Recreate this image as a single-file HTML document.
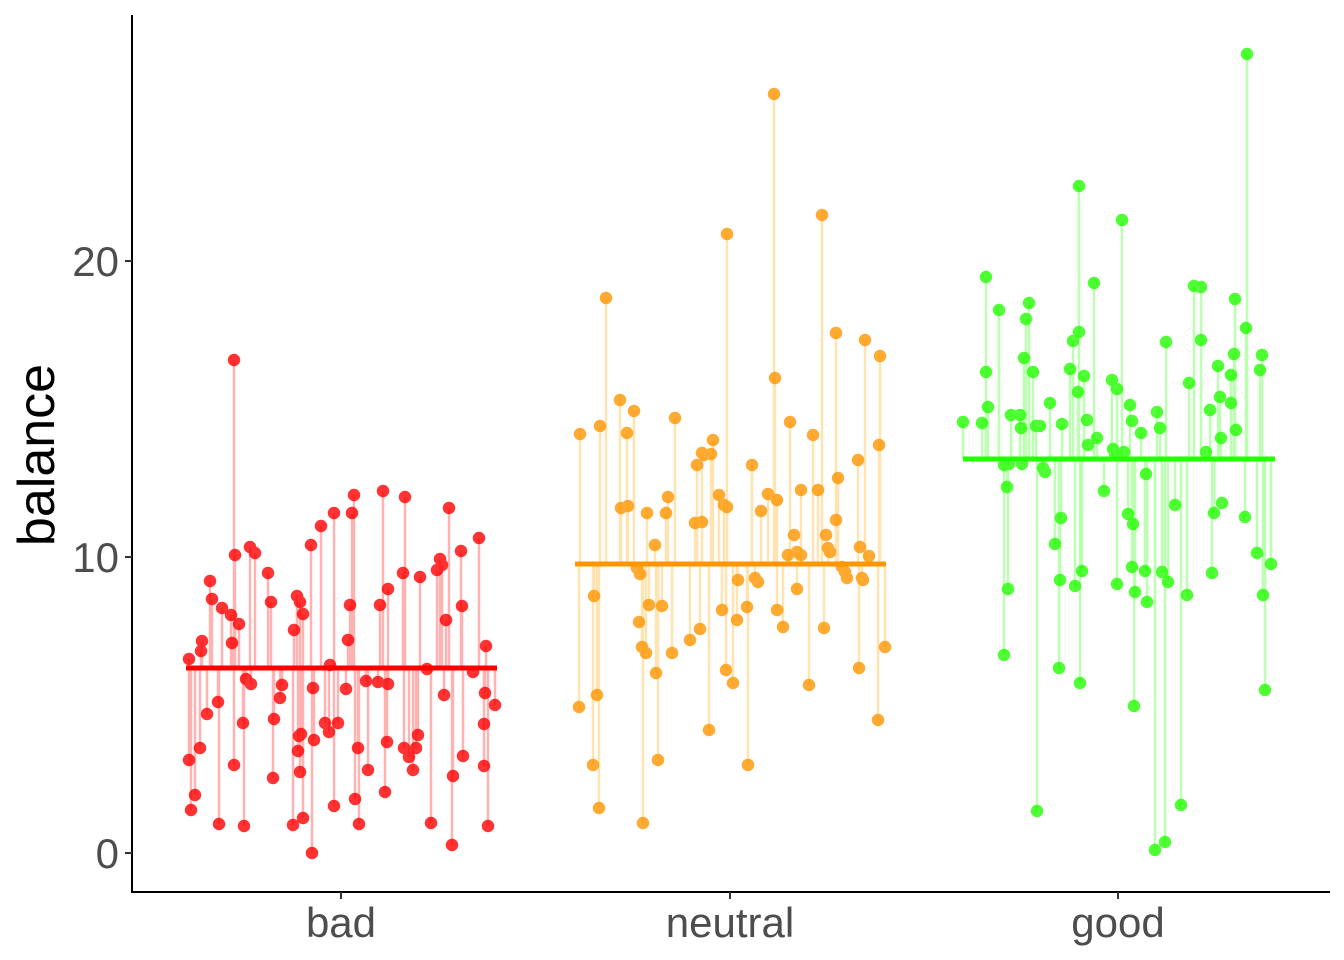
<!DOCTYPE html>
<html><head><meta charset="utf-8"><style>html,body{margin:0;padding:0;background:#fff}svg{display:block}</style></head><body>
<svg width="1344" height="960" viewBox="0 0 1344 960" xmlns="http://www.w3.org/2000/svg" font-family="Liberation Sans, sans-serif">
<rect width="1344" height="960" fill="#fff"/>
<!-- bad -->
<path fill="none" stroke="#ff0000" stroke-opacity="0.3" stroke-width="2.5" d="M189 668V659M189 668V760M191 668V810M195 668V795M200 668V748M201 668V651M202 668V641M207 668V714M210 668V581M212 668V599M218 668V702M219 668V824M222 668V608M231 668V615M232 668V643M234 668V360M234 668V765M235 668V555M239 668V624M243 668V723M244 668V826M246 668V679M250 668V547M251 668V684M255 668V553M268 668V573M271 668V602M273 668V778M274 668V719M280 668V698M282 668V685M293 668V825M294 668V630M297 668V596M298 668V751M299 668V736M300 668V602M300 668V772M301 668V734M303 668V614M303 668V818M311 668V545M312 668V853M313 668V688M314 668V740M321 668V526M325 668V723M329 668V732M330 668V665M334 668V806M334 668V513M338 668V723M346 668V689M348 668V640M350 668V605M352 668V513M354 668V495M355 668V799M358 668V748M359 668V824M366 668V681M368 668V770M378 668V682M380 668V605M383 668V491M385 668V792M387 668V742M388 668V684M388 668V589M403 668V573M404 668V748M405 668V497M409 668V757M413 668V770M416 668V748M418 668V735M420 668V577M431 668V823M437 668V570M440 668V559M442 668V565M444 668V695M446 668V620M449 668V508M452 668V845M453 668V776M461 668V551M462 668V606M463 668V756M473 668V672M479 668V538M484 668V724M484 668V766M485 668V693M486 668V646M488 668V826M495 668V705"/>
<path fill="none" stroke="#ff0000" stroke-opacity="0.8" stroke-width="12.5" stroke-linecap="round" d="M189 659h0M189 760h0M191 810h0M195 795h0M200 748h0M201 651h0M202 641h0M207 714h0M210 581h0M212 599h0M218 702h0M219 824h0M222 608h0M231 615h0M232 643h0M234 360h0M234 765h0M235 555h0M239 624h0M243 723h0M244 826h0M246 679h0M250 547h0M251 684h0M255 553h0M268 573h0M271 602h0M273 778h0M274 719h0M280 698h0M282 685h0M293 825h0M294 630h0M297 596h0M298 751h0M299 736h0M300 602h0M300 772h0M301 734h0M303 614h0M303 818h0M311 545h0M312 853h0M313 688h0M314 740h0M321 526h0M325 723h0M329 732h0M330 665h0M334 806h0M334 513h0M338 723h0M346 689h0M348 640h0M350 605h0M352 513h0M354 495h0M355 799h0M358 748h0M359 824h0M366 681h0M368 770h0M378 682h0M380 605h0M383 491h0M385 792h0M387 742h0M388 684h0M388 589h0M403 573h0M404 748h0M405 497h0M409 757h0M413 770h0M416 748h0M418 735h0M420 577h0M427 669h0M431 823h0M437 570h0M440 559h0M442 565h0M444 695h0M446 620h0M449 508h0M452 845h0M453 776h0M461 551h0M462 606h0M463 756h0M473 672h0M479 538h0M484 724h0M484 766h0M485 693h0M486 646h0M488 826h0M495 705h0"/>
<line x1="186" y1="668" x2="497" y2="668" stroke="#ff0000" stroke-width="5"/>
<!-- neutral -->
<path fill="none" stroke="#ffa500" stroke-opacity="0.3" stroke-width="2.5" d="M579 564V707M580 564V434M593 564V765M594 564V596M597 564V695M599 564V808M600 564V426M606 564V298M620 564V400M621 564V508M627 564V433M628 564V506M634 564V411M640 564V574M642 564V647M643 564V823M646 564V653M647 564V513M649 564V605M655 564V545M656 564V673M658 564V760M662 564V606M666 564V513M668 564V497M672 564V653M675 564V418M690 564V640M695 564V523M697 564V465M700 564V629M702 564V522M702 564V453M709 564V730M711 564V454M713 564V440M719 564V495M722 564V610M724 564V505M726 564V670M727 564V234M733 564V683M737 564V620M738 564V580M747 564V607M748 564V765M752 564V465M755 564V578M761 564V511M768 564V494M774 564V94M775 564V378M777 564V610M777 564V500M783 564V627M788 564V555M790 564V422M797 564V552M797 564V589M801 564V490M809 564V685M813 564V435M818 564V490M822 564V215M824 564V628M828 564V548M836 564V333M836 564V520M838 564V478M842 564V567M847 564V578M858 564V460M859 564V668M862 564V578M865 564V340M878 564V720M879 564V445M880 564V356M885 564V647"/>
<path fill="none" stroke="#ff9500" stroke-opacity="0.8" stroke-width="12.5" stroke-linecap="round" d="M579 707h0M580 434h0M593 765h0M594 596h0M597 695h0M599 808h0M600 426h0M606 298h0M620 400h0M621 508h0M627 433h0M628 506h0M634 411h0M637 568h0M639 622h0M640 574h0M642 647h0M643 823h0M646 653h0M647 513h0M649 605h0M655 545h0M656 673h0M658 760h0M662 606h0M666 513h0M668 497h0M672 653h0M675 418h0M690 640h0M695 523h0M697 465h0M700 629h0M702 522h0M702 453h0M704 455h0M709 730h0M711 454h0M713 440h0M719 495h0M722 610h0M724 505h0M726 670h0M727 507h0M727 234h0M733 683h0M737 620h0M738 580h0M747 607h0M748 765h0M752 465h0M755 578h0M758 582h0M761 511h0M768 494h0M774 94h0M775 378h0M777 610h0M777 500h0M783 627h0M788 555h0M790 422h0M794 535h0M797 552h0M797 589h0M801 490h0M801 555h0M809 685h0M813 435h0M818 490h0M822 215h0M824 628h0M826 535h0M828 548h0M830 552h0M836 333h0M836 520h0M838 478h0M842 567h0M845 572h0M847 578h0M858 460h0M859 668h0M860 547h0M862 578h0M863 580h0M865 340h0M869 556h0M878 720h0M879 445h0M880 356h0M885 647h0"/>
<line x1="575" y1="564" x2="886" y2="564" stroke="#ff9500" stroke-width="5"/>
<!-- good -->
<path fill="none" stroke="#22ff00" stroke-opacity="0.3" stroke-width="2.5" d="M963 459V422M982 459V423M986 459V372M986 459V277M988 459V407M999 459V310M1004 459V655M1007 459V487M1008 459V589M1011 459V415M1020 459V415M1022 459V464M1024 459V358M1026 459V319M1029 459V303M1033 459V372M1036 459V426M1037 459V811M1043 459V468M1050 459V403M1055 459V544M1059 459V668M1060 459V580M1061 459V518M1062 459V424M1070 459V369M1073 459V341M1075 459V586M1078 459V392M1079 459V186M1079 459V332M1080 459V683M1082 459V571M1084 459V376M1094 459V283M1097 459V438M1104 459V491M1112 459V380M1117 459V389M1117 459V584M1122 459V220M1128 459V514M1130 459V405M1132 459V567M1133 459V524M1134 459V706M1135 459V592M1141 459V433M1145 459V571M1147 459V602M1155 459V850M1157 459V412M1160 459V428M1162 459V572M1165 459V842M1166 459V342M1168 459V582M1175 459V505M1181 459V805M1187 459V595M1189 459V383M1194 459V286M1201 459V287M1201 459V340M1210 459V410M1212 459V573M1214 459V513M1218 459V366M1220 459V397M1221 459V438M1231 459V375M1231 459V403M1234 459V354M1235 459V299M1245 459V517M1246 459V328M1247 459V54M1257 459V553M1260 459V370M1262 459V355M1263 459V595M1265 459V690M1271 459V564"/>
<path fill="none" stroke="#22ff00" stroke-opacity="0.8" stroke-width="12.5" stroke-linecap="round" d="M963 422h0M982 423h0M986 372h0M986 277h0M988 407h0M999 310h0M1004 465h0M1007 487h0M1004 655h0M1008 589h0M1009 464h0M1011 415h0M1020 415h0M1021 428h0M1022 464h0M1024 358h0M1026 319h0M1029 303h0M1033 372h0M1036 426h0M1037 811h0M1040 426h0M1043 468h0M1045 472h0M1050 403h0M1055 544h0M1059 668h0M1060 580h0M1061 518h0M1062 424h0M1070 369h0M1073 341h0M1075 586h0M1078 392h0M1079 186h0M1079 332h0M1080 683h0M1082 571h0M1084 376h0M1087 420h0M1088 445h0M1094 283h0M1097 438h0M1104 491h0M1112 380h0M1113 449h0M1115 453h0M1117 389h0M1117 584h0M1122 220h0M1124 452h0M1128 514h0M1130 405h0M1132 421h0M1132 567h0M1133 524h0M1134 706h0M1135 592h0M1141 433h0M1145 571h0M1146 474h0M1147 602h0M1155 850h0M1157 412h0M1160 428h0M1162 572h0M1165 842h0M1166 342h0M1168 582h0M1175 505h0M1181 805h0M1187 595h0M1189 383h0M1194 286h0M1201 287h0M1201 340h0M1206 452h0M1210 410h0M1212 573h0M1214 513h0M1218 366h0M1220 397h0M1221 438h0M1222 503h0M1231 375h0M1231 403h0M1234 354h0M1235 299h0M1236 430h0M1245 517h0M1246 328h0M1247 54h0M1257 553h0M1260 370h0M1262 355h0M1263 595h0M1265 690h0M1271 564h0"/>
<line x1="963" y1="459" x2="1275" y2="459" stroke="#22ff00" stroke-width="5"/>
<!-- axes -->
<path d="M132 15V892H1330" fill="none" stroke="#000" stroke-width="2"/>
<path d="M125 853H132M125 557H132M125 261H132M341 892V899M730 892V899M1118 892V899" stroke="#333" stroke-width="2"/>
<g fill="#4d4d4d" font-size="42" text-anchor="end">
<text x="119" y="868">0</text><text x="119" y="572">10</text><text x="119" y="276">20</text>
</g>
<g fill="#4d4d4d" font-size="42" text-anchor="middle">
<text x="341" y="937">bad</text><text x="730" y="937">neutral</text><text x="1118" y="937">good</text>
</g>
<text transform="translate(54,455) rotate(-90)" font-size="52" text-anchor="middle" fill="#000">balance</text>
</svg>
</body></html>
